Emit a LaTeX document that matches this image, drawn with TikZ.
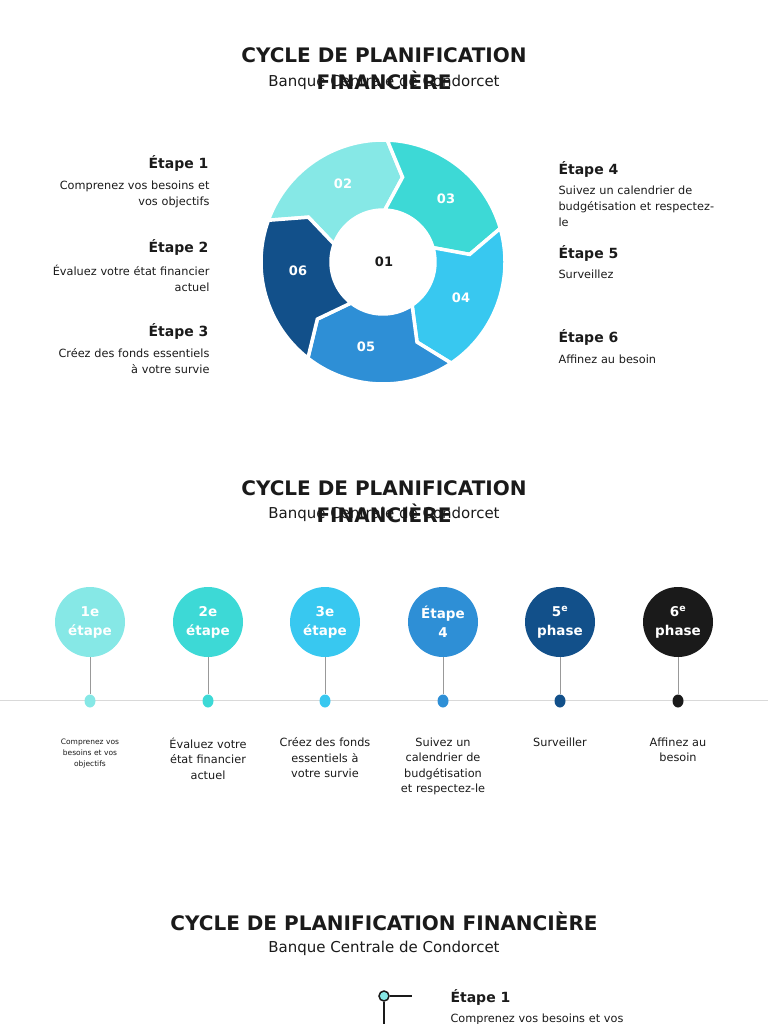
\documentclass[tikz,border=0pt]{standalone}
\usepackage{fontspec}
\usetikzlibrary{shapes.geometric}
\setmainfont{DejaVu Sans}
\definecolor{ctxt}{HTML}{1A1A1A}
\definecolor{cA}{HTML}{86E8E6}
\definecolor{cB}{HTML}{3DD9D6}
\definecolor{cC}{HTML}{38C8F0}
\definecolor{cD}{HTML}{2E8FD6}
\definecolor{cE}{HTML}{12508A}
\begin{document}
\begin{tikzpicture}[x=1pt,y=-1pt,
    title/.style={font=\bfseries\fontsize{20}{22}\selectfont, text=ctxt},
    subtitle/.style={font=\fontsize{15}{17}\selectfont, text=ctxt},
    stephead/.style={font=\bfseries\fontsize{14}{16}\selectfont, text=ctxt},
    stepdesc/.style={font=\fontsize{11.3}{16}\selectfont, text=ctxt, align=left, text width=190pt},
    seglabel/.style={font=\bfseries\fontsize{13}{15}\selectfont, text=white},
    bubble/.style={circle, minimum size=70pt, inner sep=0pt, text=white, align=center, font=\bfseries\fontsize{13.5}{19}\selectfont},
    dot/.style={ellipse, minimum width=11pt, minimum height=13pt, inner sep=0pt},
    tdesc/.style={font=\fontsize{11.3}{15.5}\selectfont, text=ctxt, align=center, text width=110pt, anchor=north}
  ]
  \useasboundingbox (0,0) rectangle (768,1024);

  % Cycle
  \node[title] (t1) at (384,55) {CYCLE DE PLANIFICATION};
  \node[title] (t1b) at (384,80) {FINANCIÈRE};
  \node[subtitle] (s1) at (384,82) {Banque Centrale de Condorcet};

  \begin{scope}[shift={(383,262)}, y=1pt]
    \foreach \a/\c in {88/cA, 16/cB, -56/cC, -128/cD, 160/cE} {
      \pgfmathsetmacro{\b}{\a+72}
      \fill[\c, draw=white, line width=3.5pt]
        (\a:122) -- (\a-11:87) -- (\a:52) arc[start angle=\a, end angle=\b, radius=52]
        -- (\b-11:87) -- (\b:122) arc[start angle=\b, end angle=\a, radius=122] -- cycle;
    }
  \end{scope}
  \node[seglabel] (n02) at (343,184) {02};
  \node[seglabel] (n03) at (446,199) {03};
  \node[seglabel] (n04) at (461,298) {04};
  \node[seglabel] (n05) at (366,347) {05};
  \node[seglabel] (n06) at (298,271) {06};
  \node[font=\bfseries\fontsize{13}{15}\selectfont, text=ctxt] (n01) at (384,262) {01};

  \node[stephead, anchor=east] (e1) at (212,163) {Étape 1};
  \node[stepdesc, anchor=north east, align=right] (d1) at (213,177) {Comprenez vos besoins et\\vos objectifs};
  \node[stephead, anchor=east] (e2) at (212,247) {Étape 2};
  \node[stepdesc, anchor=north east, align=right] (d2) at (213,261) {Évaluez votre état financier\\actuel};
  \node[stephead, anchor=east] (e3) at (212,331) {Étape 3};
  \node[stepdesc, anchor=north east, align=right] (d3) at (213,345) {Créez des fonds essentiels\\à votre survie};
  \node[stephead, anchor=west] (e4) at (555,169) {Étape 4};
  \node[stepdesc, anchor=north west] (d4) at (555,182) {Suivez un calendrier de\\budgétisation et respectez-\\le};
  \node[stephead, anchor=west] (e5) at (555,253) {Étape 5};
  \node[stepdesc, anchor=north west] (d5) at (555,266) {Surveillez};
  \node[stephead, anchor=west] (e6) at (555,337) {Étape 6};
  \node[stepdesc, anchor=north west] (d6) at (555,351) {Affinez au besoin};

  % Timeline
  \node[title] (t2) at (384,488) {CYCLE DE PLANIFICATION};
  \node[title] (t2b) at (384,513) {FINANCIÈRE};
  \node[subtitle] (s2) at (384,514) {Banque Centrale de Condorcet};

  \coordinate (axl) at (0,700);
  \coordinate (axr) at (768,700);
  \draw[black!15, line width=1pt] (axl) -- (axr);
  \foreach \i/\x/\c/\t in {1/90/cA/{1e\\étape}, 2/208/cB/{2e\\étape}, 3/325/cC/{3e\\étape},
      4/443/cD/{Étape\\4}, 5/560/cE/{5\textsuperscript{e}\\phase}, 6/678/ctxt/{6\textsuperscript{e}\\phase}} {
    \node[bubble, fill=\c] (b\i) at (\x,622) {\t};
    \node[dot, fill=\c] (p\i) at (\x,701) {};
    \draw[black!40, line width=0.6pt] (b\i) -- (p\i);
  }
  \node[tdesc, font=\fontsize{7.5}{11}\selectfont] (q1) at (90,735) {Comprenez vos\\besoins et vos\\objectifs};
  \node[tdesc] (q2) at (208,734) {Évaluez votre\\état financier\\actuel};
  \node[tdesc] (q3) at (325,734) {Créez des fonds\\essentiels à\\votre survie};
  \node[tdesc] (q4) at (443,734) {Suivez un\\calendrier de\\budgétisation\\et respectez-le};
  \node[tdesc] (q5) at (560,734) {Surveiller};
  \node[tdesc] (q6) at (678,734) {Affinez au\\besoin};

  % Vertical list
  \node[title] (t3) at (384,921) {CYCLE DE PLANIFICATION FINANCIÈRE};
  \node[subtitle] (s3) at (384,948) {Banque Centrale de Condorcet};
  \node[circle, draw=ctxt, fill=cA, line width=1.5pt, minimum size=10pt, inner sep=0pt] (v1) at (384,996) {};
  \coordinate (v1r) at (412,996);
  \coordinate (v1d) at (384,1024);
  \draw[ctxt, line width=1.8pt] (v1) -- (v1r);
  \draw[ctxt, line width=1.8pt] (v1) -- (v1d);
  \node[stephead, anchor=west] (f1) at (447,997) {Étape 1};
  \node[stepdesc, anchor=west, text width=250pt] (g1) at (447,1019) {Comprenez vos besoins et vos};
\end{tikzpicture}
\end{document}
